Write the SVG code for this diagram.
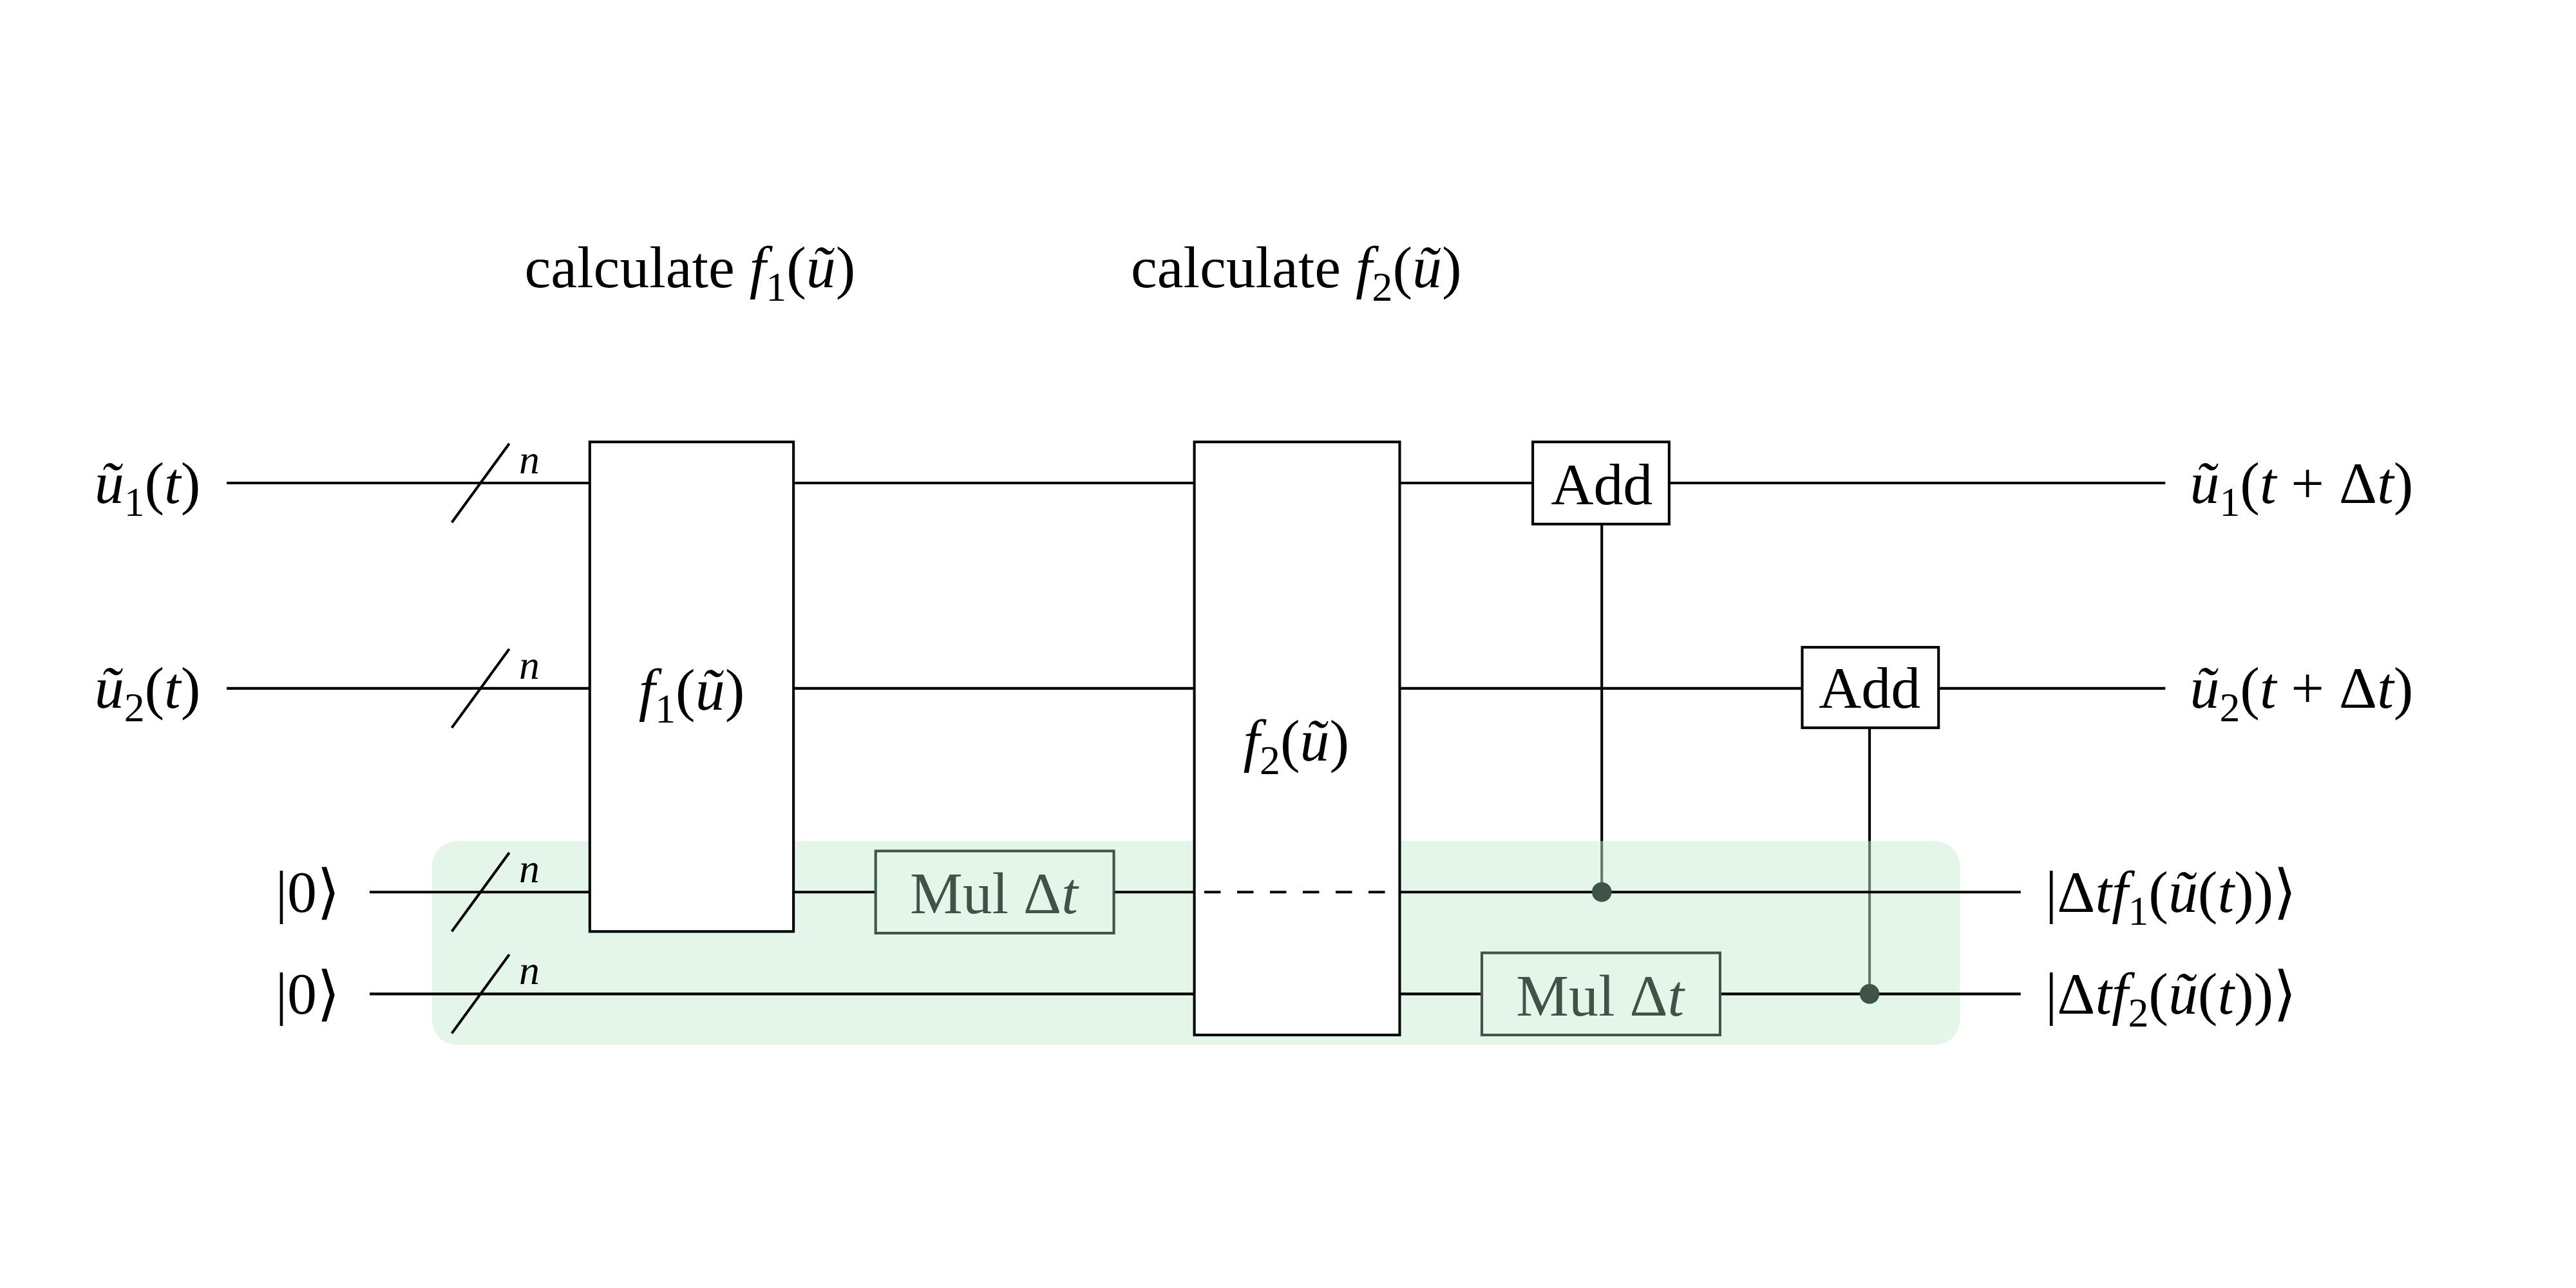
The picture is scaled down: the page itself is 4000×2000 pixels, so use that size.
<svg xmlns="http://www.w3.org/2000/svg" width="4000" height="2000" viewBox="0 0 4000 2000">
<style>
.w{stroke:#000;stroke-width:1.6;fill:none}
.g{stroke:#3f5446;stroke-width:1.6;fill:none}
.bx{stroke:#000;stroke-width:1.6;fill:#fff}
.gb{stroke:#3f5446;stroke-width:1.6;fill:none}
text{font-family:"Liberation Serif",serif;font-size:36px}
.i{font-style:italic}
.s{font-size:25px}
.gt{fill:#3f5446}
</style>
<rect width="4000" height="2000" fill="#fff"/>
<g transform="scale(2.551)">
<g id="connectors">
<line class="w" x1="138" y1="294" x2="359" y2="294"/>
<line class="w" x1="483" y1="294" x2="727" y2="294"/>
<line class="w" x1="852" y1="294" x2="933" y2="294"/>
<line class="w" x1="1016" y1="294" x2="1318" y2="294"/>
<line class="w" x1="138" y1="419" x2="359" y2="419"/>
<line class="w" x1="483" y1="419" x2="727" y2="419"/>
<line class="w" x1="852" y1="419" x2="1097" y2="419"/>
<line class="w" x1="1180" y1="419" x2="1318" y2="419"/>
<line class="w" x1="975" y1="319" x2="975" y2="543"/>
<line class="w" x1="1138" y1="443" x2="1138" y2="605"/>
<line class="w" x1="275" y1="318" x2="310" y2="270"/>
<line class="w" x1="275" y1="443" x2="310" y2="395"/>
</g>
<g id="highlight"><rect x="263" y="512" width="930" height="124" rx="15" fill="#c8eed4" fill-opacity="0.5"/></g>
<g id="connectors-bottom">
<line class="w" x1="225" y1="543" x2="359" y2="543"/>
<line class="w" x1="483" y1="543" x2="533" y2="543"/>
<line class="w" x1="678" y1="543" x2="727" y2="543"/>
<line class="w" x1="852" y1="543" x2="1230" y2="543"/>
<line class="w" x1="225" y1="605" x2="727" y2="605"/>
<line class="w" x1="852" y1="605" x2="902" y2="605"/>
<line class="w" x1="1047" y1="605" x2="1230" y2="605"/>
<line class="w" x1="275" y1="567" x2="310" y2="519"/>
<line class="w" x1="275" y1="629" x2="310" y2="581"/>
</g>
<g id="f1"><rect class="bx" x="359" y="269" width="124" height="298"/><text x="421" y="432" text-anchor="middle"><tspan class="i">f</tspan><tspan class="s" dy="8">1</tspan><tspan dy="-8">(</tspan><tspan class="i">ũ</tspan>)</text></g>
<g id="f2"><rect class="bx" x="727" y="269" width="125" height="361"/><line class="w" x1="733" y1="543" x2="850" y2="543" stroke-dasharray="10,10"/><text x="789" y="463" text-anchor="middle"><tspan class="i">f</tspan><tspan class="s" dy="8">2</tspan><tspan dy="-8">(</tspan><tspan class="i">ũ</tspan>)</text></g>
<g id="add1"><rect class="bx" x="933" y="269" width="83" height="50"/><text x="975" y="307" text-anchor="middle">Add</text></g>
<g id="add2"><rect class="bx" x="1097" y="394" width="83" height="49"/><text x="1138" y="431" text-anchor="middle">Add</text></g>
<g id="mul1"><rect class="gb" x="533" y="518" width="145" height="50" fill="#e5f5ea"/><text class="gt" x="605" y="556" text-anchor="middle">Mul Δ<tspan class="i">t</tspan></text></g>
<g id="mul2"><rect class="gb" x="902" y="580" width="145" height="50" fill="#e5f5ea"/><text class="gt" x="974" y="618" text-anchor="middle">Mul Δ<tspan class="i">t</tspan></text></g>
<g id="dots"><circle cx="975" cy="543" r="6" fill="#3f5446"/><circle cx="1138" cy="605" r="6" fill="#3f5446"/></g>
<g id="labels">
<text x="420" y="175" text-anchor="middle">calculate <tspan class="i">f</tspan><tspan class="s" dy="8">1</tspan><tspan dy="-8">(</tspan><tspan class="i">ũ</tspan>)</text>
<text x="789" y="175" text-anchor="middle">calculate <tspan class="i">f</tspan><tspan class="s" dy="8">2</tspan><tspan dy="-8">(</tspan><tspan class="i">ũ</tspan>)</text>
<text x="122" y="306" text-anchor="end"><tspan class="i">ũ</tspan><tspan class="s" dy="8">1</tspan><tspan dy="-8">(</tspan><tspan class="i">t</tspan>)</text>
<text x="122" y="431" text-anchor="end"><tspan class="i">ũ</tspan><tspan class="s" dy="8">2</tspan><tspan dy="-8">(</tspan><tspan class="i">t</tspan>)</text>
<text x="207" y="555" text-anchor="end">|0⟩</text>
<text x="207" y="617" text-anchor="end">|0⟩</text>
<text class="i s" x="316" y="288">n</text><text class="i s" x="316" y="413">n</text><text class="i s" x="316" y="537">n</text><text class="i s" x="316" y="599">n</text>
<text x="1333" y="306"><tspan class="i">ũ</tspan><tspan class="s" dy="8">1</tspan><tspan dy="-8">(</tspan><tspan class="i">t</tspan> + Δ<tspan class="i">t</tspan>)</text>
<text x="1333" y="431"><tspan class="i">ũ</tspan><tspan class="s" dy="8">2</tspan><tspan dy="-8">(</tspan><tspan class="i">t</tspan> + Δ<tspan class="i">t</tspan>)</text>
<text x="1245" y="555">|Δ<tspan class="i">tf</tspan><tspan class="s" dy="8">1</tspan><tspan dy="-8">(</tspan><tspan class="i">ũ</tspan>(<tspan class="i">t</tspan>))⟩</text>
<text x="1245" y="617">|Δ<tspan class="i">tf</tspan><tspan class="s" dy="8">2</tspan><tspan dy="-8">(</tspan><tspan class="i">ũ</tspan>(<tspan class="i">t</tspan>))⟩</text>
</g>
</g>
</svg>
